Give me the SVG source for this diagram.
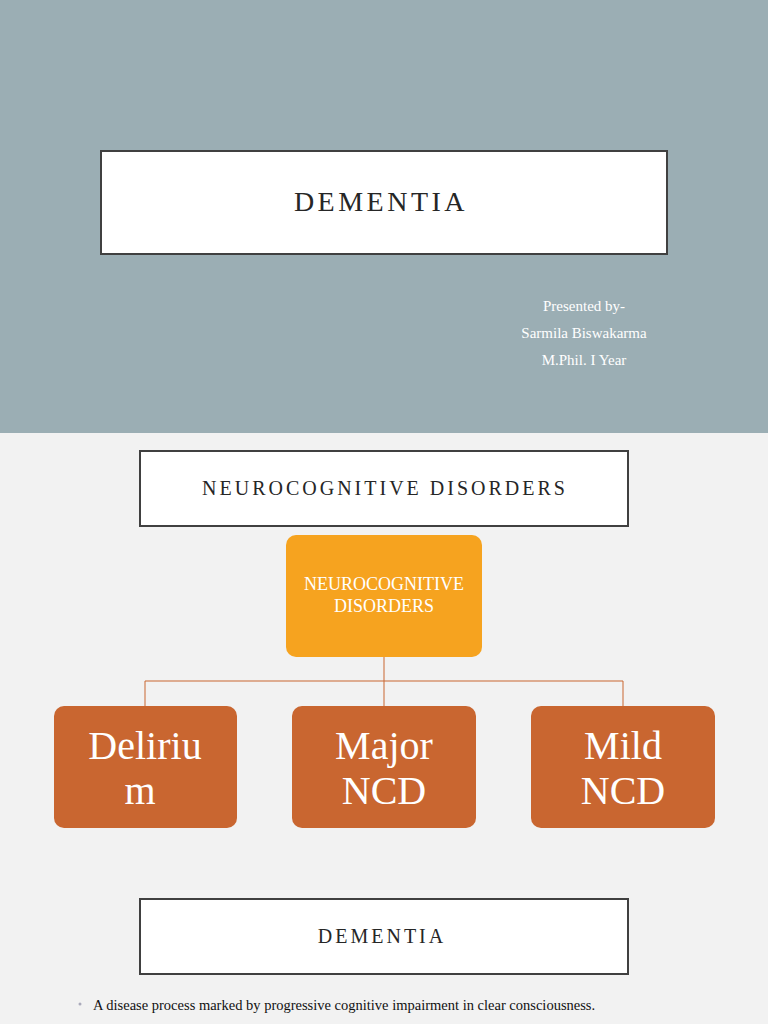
<svg xmlns="http://www.w3.org/2000/svg" width="768" height="1024" viewBox="0 0 768 1024">
<style>
text{font-family:"Liberation Serif",serif}
.box{fill:#fff;stroke:#404040;stroke-width:2}
.title{font-size:18px;fill:#262626;letter-spacing:3px;text-anchor:middle}
.child{fill:#c96630}
.ct{font-size:40px;fill:#fff;text-anchor:middle}
.w{fill:#fff;font-size:15px;text-anchor:middle}
</style>
<rect width="768" height="433" fill="#9baeb4"/>
<rect y="433" width="768" height="591" fill="#f2f2f2"/>
<g id="title1"><rect class="box" x="101" y="151" width="566" height="103" stroke-width="2.5"/><text class="title" x="381" y="211" style="font-size:28px;letter-spacing:3.5px">DEMENTIA</text></g>
<g id="presenter"><text class="w" x="584" y="311">Presented by-</text><text class="w" x="584" y="338">Sarmila Biswakarma</text><text class="w" x="584" y="365">M.Phil. I Year</text></g>
<g id="title2"><rect class="box" x="140" y="451" width="488" height="75"/><text class="title" x="385" y="495" style="font-size:20px">NEUROCOGNITIVE DISORDERS</text></g>
<g id="connectors" stroke="#c96630" stroke-width="1" fill="none"><path d="M384 656V706M145 706V681H623V706"/></g>
<g id="root"><rect x="286" y="535" width="196" height="122" rx="10" fill="#f6a31f"/><text class="w" x="384" y="590" style="font-size:18px">NEUROCOGNITIVE</text><text class="w" x="384" y="612" style="font-size:18px">DISORDERS</text></g>
<g id="delirium"><rect class="child" x="54" y="706" width="183" height="122" rx="10"/><text class="ct" x="145" y="759">Deliriu</text><text class="ct" x="140" y="804">m</text></g>
<g id="major"><rect class="child" x="292" y="706" width="184" height="122" rx="10"/><text class="ct" x="384" y="759">Major</text><text class="ct" x="384" y="804">NCD</text></g>
<g id="mild"><rect class="child" x="531" y="706" width="184" height="122" rx="10"/><text class="ct" x="623" y="759">Mild</text><text class="ct" x="623" y="804">NCD</text></g>
<g id="title3"><rect class="box" x="140" y="899" width="488" height="75"/><text class="title" x="382" y="943" style="font-size:20px">DEMENTIA</text></g>
<g id="bullet"><circle cx="80" cy="1004" r="1.5" fill="#aab"/><text x="93" y="1010" font-size="14.5" fill="#111">A disease process marked by progressive cognitive impairment in clear consciousness.</text></g>
</svg>
